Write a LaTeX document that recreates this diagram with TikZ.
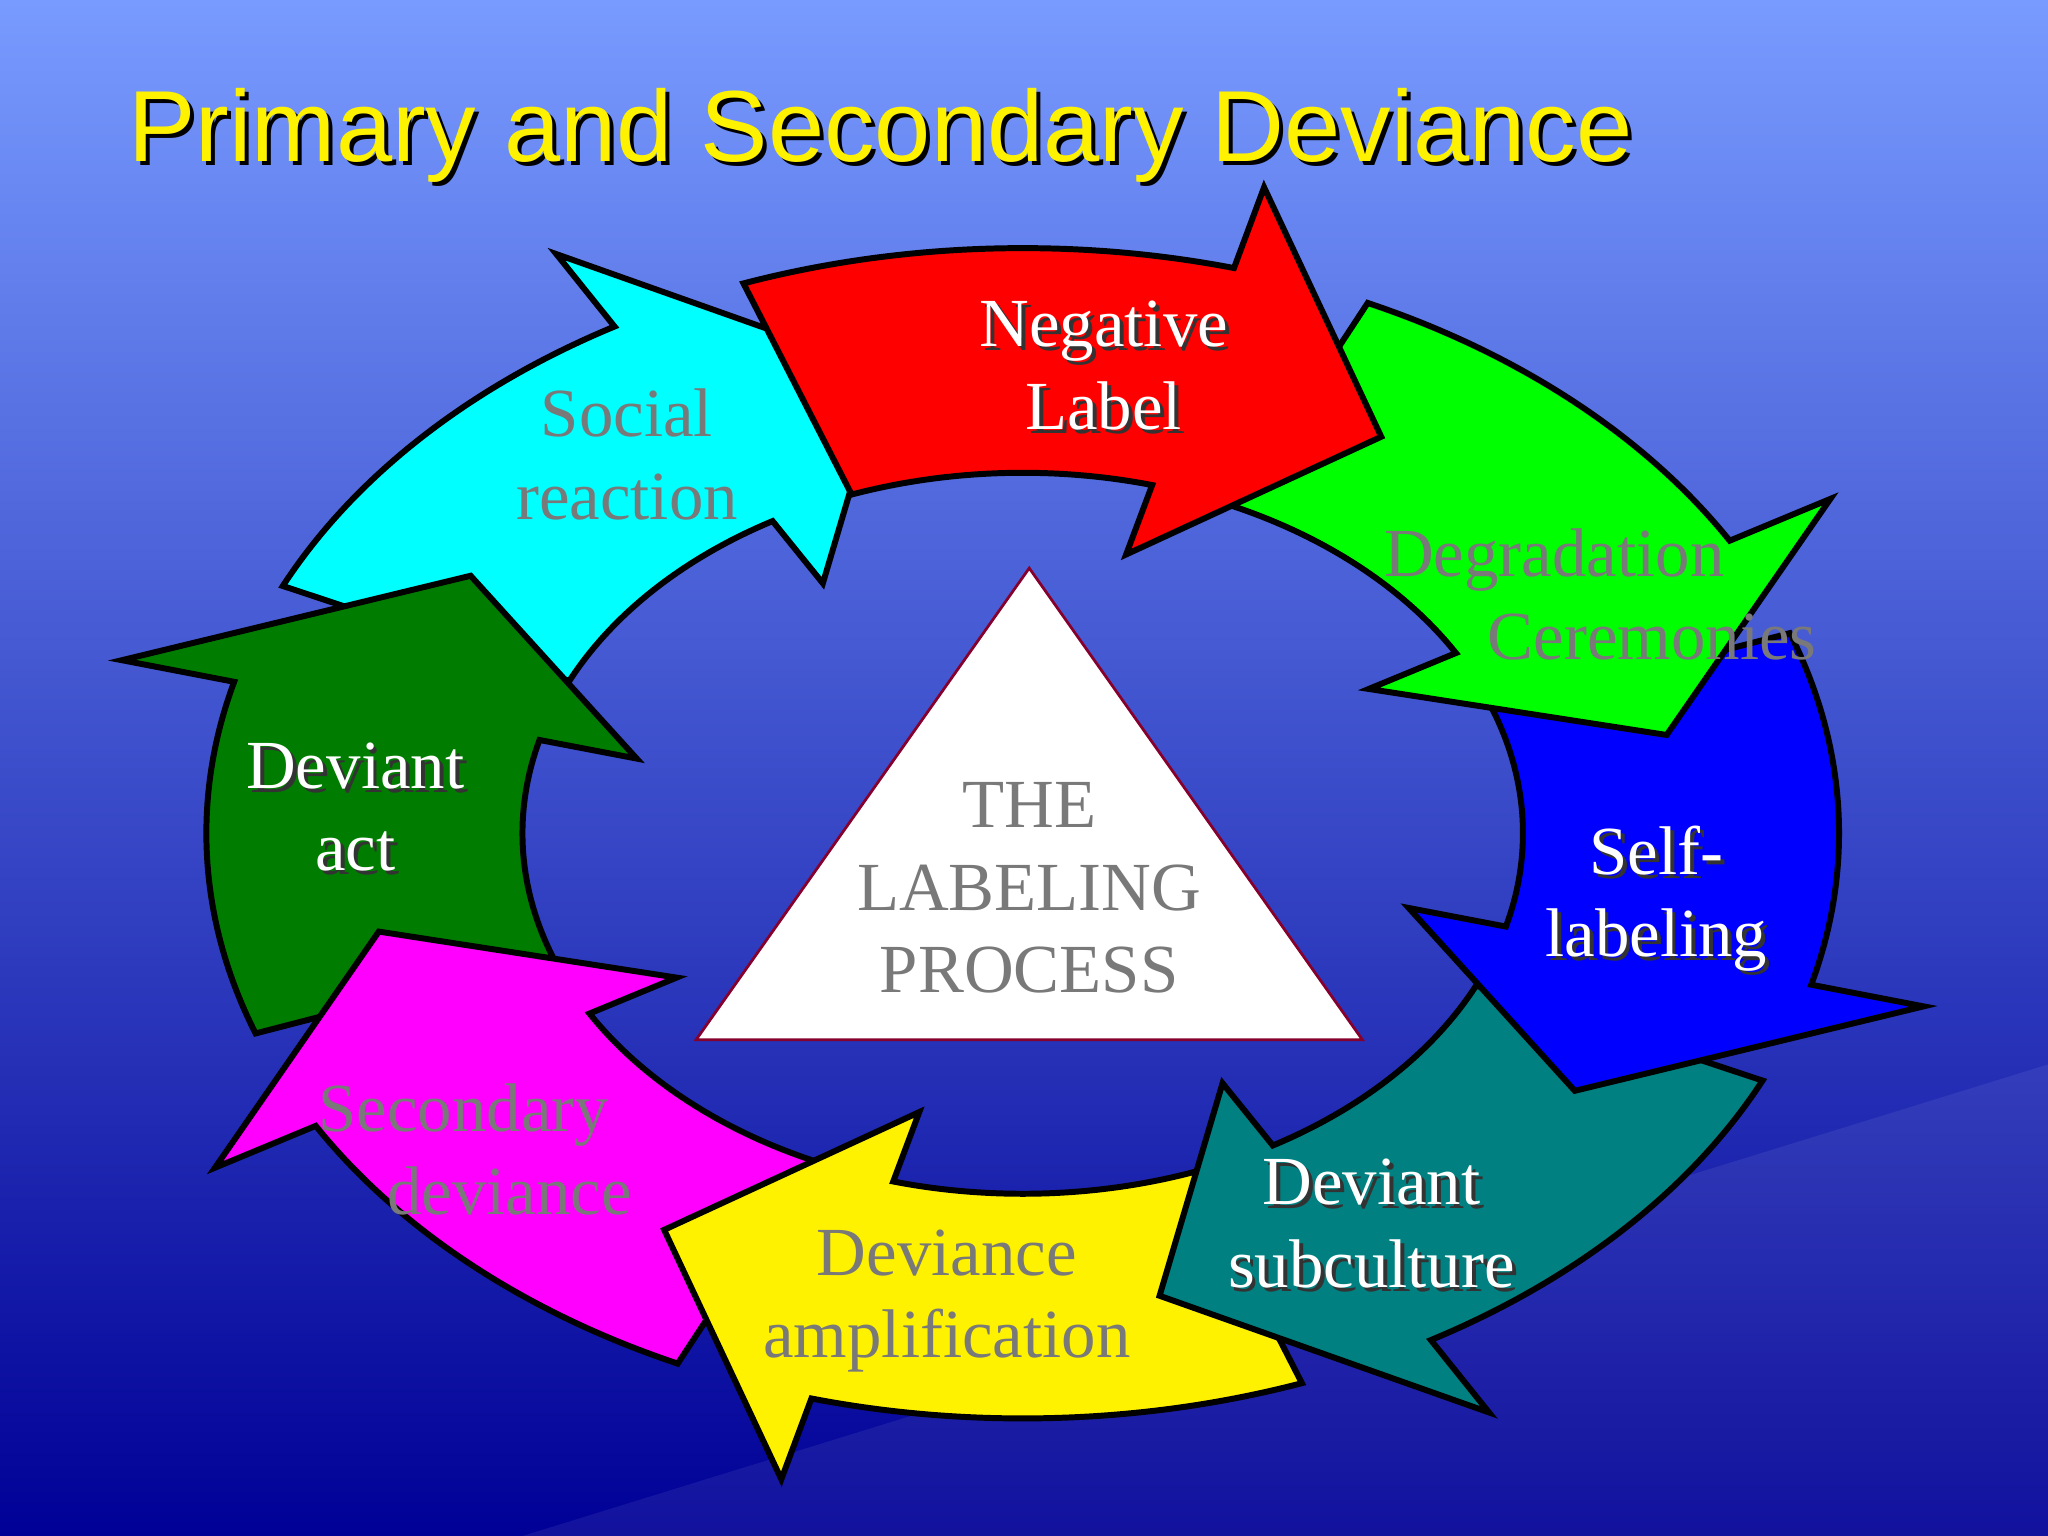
\documentclass[tikz,border=0pt]{standalone}
\usepackage{fontspec}
\setmainfont{Liberation Serif}
\newfontfamily\titlefont{Liberation Sans}
\begin{document}
\begin{tikzpicture}[x=1cm,y=1cm,
  lbl/.style={align=center,font=\fontsize{15}{18}\selectfont},
  wlbl/.style={lbl,text=white},
  slbl/.style={lbl,text=black!80},
  glbl/.style={lbl,text=gray!95!black},
  arr/.style={draw=black,line width=1.3pt,line join=miter}]
\definecolor{bgtop}{RGB}{120,155,255}
\definecolor{bgbot}{RGB}{0,0,150}
\definecolor{dkgreen}{RGB}{0,125,0}
\definecolor{tealc}{RGB}{0,128,128}
\definecolor{cyanc}{RGB}{0,255,255}
\definecolor{magc}{RGB}{255,0,255}
\useasboundingbox (0,0) rectangle (15.68,11.76);
\shade[top color=bgtop,bottom color=bgbot] (0,0) rectangle (15.68,11.76);
\fill[white,opacity=0.07] (15.68,3.61) -- (15.68,0) -- (4.0,0) -- cycle;
% title
\node[anchor=west,text=black,font=\titlefont\fontsize{22}{26}\selectfont] at (0.89,10.69) {Primary and Secondary Deviance};
\node[anchor=west,text=yellow,font=\titlefont\fontsize{22}{26}\selectfont] (title) at (0.86,10.72) {Primary and Secondary Deviance};
% arrows
\newcommand{\ringarrow}[2]{%
 \pgfmathsetmacro{\ta}{#1}\pgfmathsetmacro{\ha}{#1-35}\pgfmathsetmacro{\pa}{#1-53}%
 \path[arr,fill=#2] (\ta:6.25 and 4.48) arc[start angle=\ta,end angle=\ha,x radius=6.25,y radius=4.48]
  -- (\ha:7.14 and 5.12) -- (\pa:5.04 and 3.62) -- (\ha:3.06 and 2.21)
  -- (\ha:3.83 and 2.76) arc[start angle=\ha,end angle=\ta,x radius=3.83,y radius=2.76] -- cycle;}
\begin{scope}[shift={(7.83,5.38)}]
\ringarrow{155}{cyanc}
\ringarrow{200}{dkgreen}
\ringarrow{245}{magc}
\ringarrow{290}{yellow}
\ringarrow{335}{tealc}
\ringarrow{20}{blue}
\ringarrow{65}{green}
\ringarrow{110}{red}
\end{scope}
% triangle
\path[draw=purple!70!black,fill=white,line width=0.6pt] (7.88,7.41) -- (10.43,3.80) -- (5.33,3.80) -- cycle;
\node[glbl] (proc) at (7.88,4.96) {THE\\LABELING\\PROCESS};
% labels (white ones with shadow)
\node[slbl] at (8.48,8.93) {Negative\\Label};
\node[wlbl] (neg) at (8.45,8.96) {Negative\\Label};
\node[glbl] (deg) at (11.9,7.21) {Degradation\\\hspace*{1.5cm}Ceremonies};
\node[slbl] at (12.71,4.85) {Self-\\labeling};
\node[wlbl] (self) at (12.68,4.88) {Self-\\labeling};
\node[slbl] at (10.53,2.36) {Deviant\\subculture};
\node[wlbl] (sub) at (10.5,2.39) {Deviant\\subculture};
\node[glbl] (amp) at (7.25,1.8) {Deviance\\amplification};
\node[glbl] (sec) at (3.55,2.96) {Secondary\\\hspace*{0.7cm}deviance};
\node[slbl] at (2.75,5.55) {Deviant\\act};
\node[wlbl] (act) at (2.72,5.58) {Deviant\\act};
\node[glbl] (soc) at (4.8,8.28) {Social\\reaction};
\end{tikzpicture}
\end{document}
